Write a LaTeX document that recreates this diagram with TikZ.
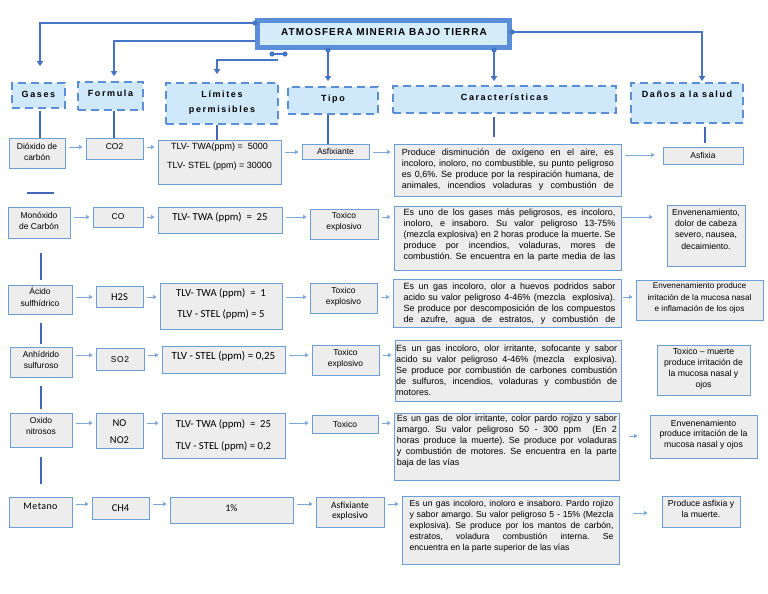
\documentclass[tikz,border=0pt]{standalone}
\usepackage{fontspec}
\setmainfont{Liberation Sans}
\newfontfamily\calib{Carlito}
\usetikzlibrary{arrows.meta}
\frenchspacing
\definecolor{lineblue}{HTML}{4674C6}
\definecolor{frameblue}{HTML}{5B8ED8}
\definecolor{titlefill}{HTML}{D5ECFB}
\definecolor{hdrfill}{HTML}{CFE9FB}
\definecolor{hdrline}{HTML}{5A8ED6}
\definecolor{boxfill}{HTML}{EDEDED}
\definecolor{boxline}{HTML}{6E9DD5}
\definecolor{arrblue}{HTML}{7DA8DC}
\definecolor{vblue}{HTML}{4169B8}
\newcommand\rf{\fontsize{8.5}{11}\selectfont}
\newcommand\hf{\bfseries\fontsize{9}{15}\selectfont\addfontfeatures{LetterSpace=18}}
\newcommand\jl[1]{\makebox[\hsize][s]{\strut #1}\\}
\newcommand\jlast[1]{\makebox[\hsize][s]{\strut #1}}
% style, name, x1, y1, x2, y2, text y, font, text
\newcommand\mkbox[9]{%
  \node[#1, minimum width={(#5-#3)*1pt}, minimum height={(#6-#4)*1pt}] (#2) at ({(#3+#5)/2},{(#4+#6)/2}) {};
  \node[txt, font=#8] (#2t) at ({(#3+#5)/2},#7) {#9};}
% name, x1, y1, x2, y2, text x, text y, width, text
\newcommand\mkdesc[9]{%
  \node[rb, minimum width={(#4-#2)*1pt}, minimum height={(#5-#3)*1pt}] (#1) at ({(#2+#4)/2},{(#3+#5)/2}) {};
  \node[desct, text width=#8pt, anchor=north west] (#1t) at (#6,#7) {\noindent #9};}
\tikzset{
  rb/.style={draw=boxline, line width=0.8pt, fill=boxfill, inner sep=0pt},
  hdr/.style={draw=hdrline, fill=hdrfill, line width=1.6pt, dash pattern=on 8pt off 5pt, inner sep=0pt},
  txt/.style={inner sep=0pt, align=center},
  desct/.style={inner sep=0pt, align=justify, font=\fontsize{9}{11}\selectfont\frenchspacing},
  tline/.style={draw=lineblue, line width=1.8pt, -{Triangle[length=5pt,width=6pt]}},
  vline/.style={draw=vblue, line width=2pt},
  rarr/.style={draw=arrblue, line width=0.8pt, -{Triangle[length=3.5pt,width=4pt]}, shorten <=4pt, shorten >=3pt},
}
\begin{document}
\begin{tikzpicture}[x=1pt, y=-1pt]
\useasboundingbox (0,0) rectangle (768,594);
\fill[white] (0,0) rectangle (768,594);

% title
\node[draw=frameblue, line width=5pt, fill=titlefill, minimum width=252pt, minimum height=27pt, inner sep=0pt] (title) at (383.5,34) {};
\node[txt, font=\bfseries\fontsize{10}{12}\selectfont\addfontfeatures{LetterSpace=11}] (titlet) at (384,32) {ATMOSFERA MINERIA BAJO TIERRA};

% headers
\mkbox{hdr}{hG}{12}{83}{65}{108}{94.5}{\hf}{Gases}
\mkbox{hdr}{hF}{78}{82}{143}{110}{93}{\hf}{Formula}
\mkbox{hdr}{hL}{166}{83}{278}{124}{102.5}{\hf}{Límites\\permisibles}
\mkbox{hdr}{hT}{288}{87}{378}{114}{99}{\hf}{Tipo}
\mkbox{hdr}{hC}{393}{86}{616}{113}{97}{\hf}{Características}
\mkbox{hdr}{hD}{631}{83}{743}{123}{94}{\hf}{Daños a la salud}

% row 1
\mkbox{rb}{g1}{9}{138}{65}{168}{152}{\rf}{Dióxido de\\carbón}
\mkbox{rb}{f1}{86}{138}{143}{159}{147}{\rf}{CO2}
\mkbox{rb}{l1}{158}{140}{281}{184}{156.5}{\fontsize{9}{19}\selectfont}{TLV- TWA(ppm) =\ \ 5000\\TLV- STEL (ppm) = 30000}
\mkbox{rb}{t1}{302}{144}{369}{159}{151.7}{\rf}{Asfixiante}
\mkdesc{c1}{394}{144}{621}{196}{401.7}{147.3}{212}{%
\jl{Produce disminución de oxígeno en el aire, es}
\jl{incoloro, inoloro, no combustible, su punto peligroso}
\jl{es 0,6\%. Se produce por la respiración humana, de}
\jlast{animales, incendios voladuras y combustión de}}
\mkbox{rb}{d1}{663}{147}{743}{164}{155}{\rf}{Asfixia}

% row 2
\mkbox{rb}{g2}{8}{207}{70}{238}{220.5}{\rf}{Monóxido\\de Carbón}
\mkbox{rb}{f2}{93}{207}{143}{227}{216.7}{\rf}{CO}
\mkbox{rb}{l2}{158}{207}{282}{233}{217.3}{\calib\fontsize{10.7}{13}\selectfont}{TLV- TWA (ppm)\ \ =\ \ 25}
\mkbox{rb}{t2}{310}{209}{378}{239}{222}{\rf}{Toxico\\explosivo}
\mkdesc{c2}{394}{206}{621}{270}{403.3}{207.5}{212}{%
\jl{Es uno de los gases más peligrosos, es incoloro,}
\jl{inoloro, e insaboro. Su valor peligroso 13-75\%}
\jl{(mezcla explosiva) en 2 horas produce la muerte. Se}
\jl{produce por incendios, voladuras, mores de}
\jlast{combustión. Se encuentra en la parte media de las}}
\mkbox{rb}{d2}{667}{205}{745}{266}{229}{\fontsize{8.7}{11.3}\selectfont}{Envenenamiento,\\dolor de cabeza\\severo, nausea,\\decaimiento.}

% row 3
\mkbox{rb}{g3}{8}{285}{72}{314}{297}{\fontsize{8.5}{11.5}\selectfont}{Ácido\\sulfhídrico}
\mkbox{rb}{f3}{96}{286}{143}{307}{296.7}{\calib\fontsize{10.5}{13}\selectfont}{H2S}
\mkbox{rb}{l3}{160}{283}{282}{329}{303.5}{\calib\fontsize{10.7}{21}\selectfont}{TLV- TWA (ppm)\ \ =\ \ 1\\TLV - STEL (ppm) = 5}
\mkbox{rb}{t3}{310}{283}{377}{313}{297}{\rf}{Toxico\\explosivo}
\mkdesc{c3}{393}{279}{621}{327}{403.3}{282}{212}{%
\jl{Es un gas incoloro, olor a huevos podridos sabor}
\jl{acido su valor peligroso 4-46\% (mezcla\ \ explosiva).}
\jl{Se produce por descomposición de los compuestos}
\jlast{de azufre, agua de estratos, y combustión de}}
\mkbox{rb}{d3}{636}{280}{763}{320}{298}{\fontsize{8.2}{11.2}\selectfont}{Envenenamiento produce\\irritación de la mucosa nasal\\e inflamación de los ojos}

% row 4
\mkbox{rb}{g4}{10}{347}{72}{377}{360}{\rf}{Anhídrido\\sulfuroso}
\mkbox{rb}{f4}{96}{348}{144}{370}{359.3}{\rf\addfontfeatures{LetterSpace=8}}{SO2}
\mkbox{rb}{l4}{162}{346}{285}{373}{356.7}{\calib\fontsize{11}{13}\selectfont}{TLV - STEL (ppm) = 0,25}
\mkbox{rb}{t4}{312}{345}{379}{375}{358.3}{\rf}{Toxico\\explosivo}
\mkdesc{c4}{395}{340}{621}{401}{396}{343.6}{221}{%
\jl{Es un gas incoloro, olor irritante, sofocante y sabor}
\jl{acido su valor peligroso 4-46\% (mezcla\ \ explosiva).}
\jl{Se produce por combustión de carbones combustión}
\jl{de sulfuros, incendios, voladuras y combustión de}
motores.}
\mkbox{rb}{d4}{657}{345}{750}{395}{368.8}{\fontsize{8.7}{10.8}\selectfont}{Toxico -- muerte\\produce irritación de\\la mucosa nasal y\\ojos}

% row 5
\mkbox{rb}{g5}{10}{413}{72}{447}{426.2}{\rf}{Oxido\\nitrosos}
\mkbox{rb}{f5}{96}{413}{143}{448}{431.7}{\calib\fontsize{10.5}{16.7}\selectfont}{NO\\NO2}
\mkbox{rb}{l5}{162}{413}{285}{458}{435}{\calib\fontsize{10.7}{22}\selectfont}{TLV- TWA (ppm)\ \ =\ \ 25\\TLV - STEL (ppm) = 0,2}
\mkbox{rb}{t5}{312}{415}{378}{433}{424}{\rf}{Toxico}
\mkdesc{c5}{394}{413}{619}{480}{396.7}{413.6}{220}{%
\jl{Es un gas de olor irritante, color pardo rojizo y sabor}
\jl{amargo. Su valor peligroso 50 - 300 ppm\ \ (En 2}
\jl{horas produce la muerte). Se produce por voladuras}
\jl{y combustión de motores. Se encuentra en la parte}
baja de las vías}
\mkbox{rb}{d5}{650}{415}{757}{458}{434.5}{\fontsize{8.7}{10.5}\selectfont}{Envenenamiento\\produce irritación de la\\mucosa nasal y ojos}

% row 6
\mkbox{rb}{g6}{9}{497}{72}{527}{506.7}{\calib\fontsize{10}{12}\selectfont\addfontfeatures{LetterSpace=4}}{Metano}
\mkbox{rb}{f6}{92}{497}{149}{519}{507.7}{\calib\fontsize{10.5}{13}\selectfont}{CH4}
\mkbox{rb}{l6}{170}{497}{293}{523}{508}{\calib\fontsize{10}{12}\selectfont}{1\%}
\mkbox{rb}{t6}{316}{497}{384}{527}{510.8}{\calib\fontsize{9.5}{10.5}\selectfont}{Asfixiante\\explosivo}
\mkdesc{c6}{402}{496}{619}{564}{409.3}{498.6}{204}{%
\fontsize{8.7}{11}\selectfont
\jl{Es un gas incoloro, inoloro e insaboro. Pardo rojizo}
\jl{y sabor amargo. Su valor peligroso 5 - 15\% (Mezcla}
\jl{explosiva). Se produce por los mantos de carbón,}
\jl{estratos, voladura combustión interna. Se}
encuentra en la parte superior de las vías}
\mkbox{rb}{d6}{662}{496}{740}{527}{508.8}{\fontsize{8.7}{11}\selectfont}{Produce asfixia y\\la muerte.}

% connectors from title
\coordinate (sG) at (title.west |- 0,23);
\coordinate (sF) at (title.west |- 0,41);
\coordinate (dd1) at (272,54);
\coordinate (dd2) at (285,54);
\coordinate (sL) at (278,60);
\coordinate (sT) at (title.south -| 328,0);
\coordinate (sC) at (title.south -| 494,0);
\coordinate (sD) at (title.east |- 0,32);
\draw[tline, shorten >=16pt] (sG) -| (hG.north -| 40,0);
\draw[tline, shorten >=5pt] (sF) -| (hF.north -| 114,0);
\draw[lineblue, line width=1.8pt] (dd1) -- (dd2);
\draw[tline, shorten >=8pt] (sL) -| (hL.north -| 217,0);
\draw[tline, shorten >=5pt] (sT) -- (hT.north -| 328,0);
\draw[tline, shorten >=4pt] (sC) -- (hC.north -| 494,0);
\draw[tline, shorten >=1pt] (sD) -| (hD.north -| 702,0);
\foreach \p in {sG,dd1,dd2,sT,sC,sD} \fill[lineblue] (\p) circle (2.6pt);

% header to first row
\draw[vline, shorten <=2pt] (hG.south -| 40,0) -- (g1.north -| 40,0);
\draw[vline] (hF.south -| 114,0) -- (f1.north -| 114,0);
\draw[vline] (hL.south -| 217,0) -- (l1.north -| 217,0);
\draw[vline] (hT.south -| 328,0) -- (t1.north -| 328,0);
\draw[vline, shorten <=3pt, shorten >=7pt] (hC.south -| 494,0) -- (c1.north -| 494,0);
\draw[vline, shorten <=3pt, shorten >=4pt] (hD.south -| 705,0) -- (d1.north -| 705,0);

% gas chain
\draw[vline] ([shift={(-10pt,-25pt)}]g1.south) -- ++(27,0);
\draw[vline, shorten <=15pt, shorten >=5pt] (g2.south -| 41,0) -- (g3.north -| 41,0);
\draw[vline, shorten <=9pt, shorten >=3pt] (g3.south -| 41,0) -- (g4.north -| 41,0);
\draw[vline, shorten <=9pt, shorten >=4pt] (g4.south -| 41,0) -- (g5.north -| 41,0);
\draw[vline, shorten <=10pt, shorten >=13pt] (g5.south -| 41,0) -- (g6.north -| 41,0);

% row arrows
\draw[rarr] (g1.east |- 0,147) -- (f1.west |- 0,147);
\draw[rarr] (f1.east |- 0,147) -- (l1.west |- 0,147);
\draw[rarr] (l1.east |- 0,152) -- (t1.west |- 0,152);
\draw[rarr] (t1.east |- 0,152) -- (c1.west |- 0,152);
\draw[rarr, shorten >=8pt] (c1.east |- 0,155) -- (d1.west |- 0,155);

\draw[rarr] (g2.east |- 0,217) -- (f2.west |- 0,217);
\draw[rarr] (f2.east |- 0,217) -- (l2.west |- 0,217);
\draw[rarr] (l2.east |- 0,217) -- (t2.west |- 0,217);
\draw[rarr] (t2.east |- 0,217) -- (c2.west |- 0,217);
\draw[rarr, shorten <=0pt, shorten >=14pt] (c2.east |- 0,217) -- (d2.west |- 0,217);

\draw[rarr] (g3.east |- 0,297) -- (f3.west |- 0,297);
\draw[rarr] (f3.east |- 0,297) -- (l3.west |- 0,297);
\draw[rarr] (l3.east |- 0,297) -- (t3.west |- 0,297);
\draw[rarr] (t3.east |- 0,297) -- (c3.west |- 0,297);
\draw[rarr, shorten <=2pt, shorten >=3pt] (c3.east |- 0,297) -- (d3.west |- 0,297);

\draw[rarr] (g4.east |- 0,355) -- (f4.west |- 0,355);
\draw[rarr] (f4.east |- 0,355) -- (l4.west |- 0,355);
\draw[rarr] (l4.east |- 0,355) -- (t4.west |- 0,355);
\draw[rarr] (t4.east |- 0,355) -- (c4.west |- 0,355);

\draw[rarr] (g5.east |- 0,423) -- (f5.west |- 0,423);
\draw[rarr] (f5.east |- 0,423) -- (l5.west |- 0,423);
\draw[rarr] (l5.east |- 0,423) -- (t5.west |- 0,423);
\draw[rarr] (t5.east |- 0,423) -- (c5.west |- 0,423);
\draw[rarr, shorten <=10pt, shorten >=12pt] (c5.east |- 0,436) -- (d5.west |- 0,436);

\draw[rarr] (g6.east |- 0,504) -- (f6.west |- 0,504);
\draw[rarr] (f6.east |- 0,504) -- (l6.west |- 0,504);
\draw[rarr] (l6.east |- 0,504) -- (t6.west |- 0,504);
\draw[rarr] (t6.east |- 0,504) -- (c6.west |- 0,504);
\draw[rarr, shorten <=14pt, shorten >=14pt] (c6.east |- 0,513) -- (d6.west |- 0,513);
\end{tikzpicture}
\end{document}
